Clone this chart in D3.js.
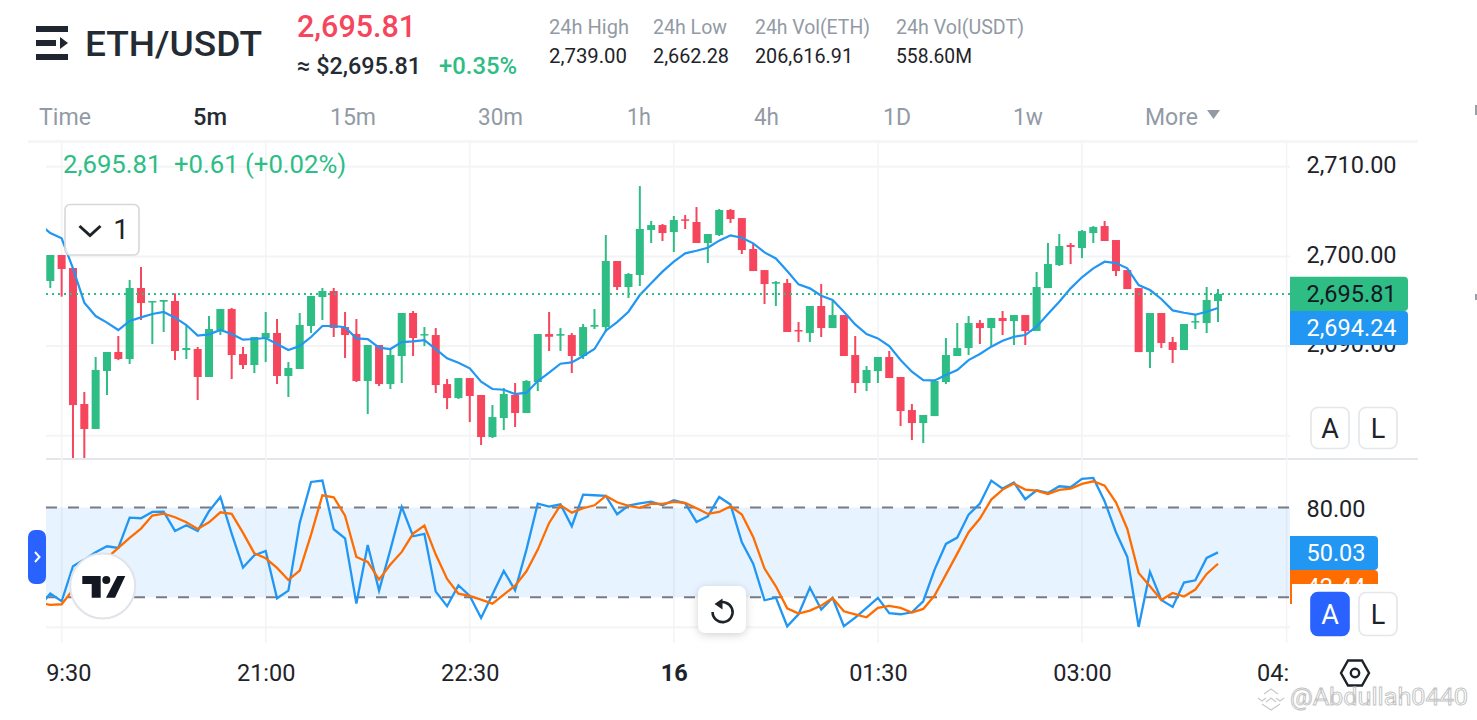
<!DOCTYPE html>
<html><head><meta charset="utf-8">
<script src="https://cdn.jsdelivr.net/npm/d3@7/dist/d3.min.js"></script>
<style>html,body{margin:0;padding:0;background:#fff;overflow:hidden}svg{display:block}text{font-family:Roboto,sans-serif}</style>
</head><body><svg id="c" width="1477" height="720"></svg>
<script>
const opens=[2697.26,2700.16,2698.71,2683.54,2680.75,2687.22,2689.34,2688.56,2696.48,2694.88,2694.95,2695.03,2689.56,2689.67,2686.55,2691.79,2694.13,2689.11,2687.89,2690.90,2691.46,2686.66,2687.44,2692.24,2695.47,2696.14,2692.12,2691.34,2686.10,2690.12,2685.76,2688.89,2693.69,2691.19,2691.23,2685.76,2684.20,2686.43,2684.54,2679.85,2681.97,2684.54,2682.53,2685.99,2691.34,2691.16,2691.23,2688.89,2692.16,2692.12,2699.49,2696.59,2697.93,2702.95,2703.50,2702.72,2704.14,2703.84,2701.50,2702.39,2705.18,2704.28,2700.83,2698.48,2696.96,2697.03,2691.79,2691.45,2694.47,2692.01,2693.46,2689.00,2685.88,2687.21,2688.78,2686.55,2682.86,2681.41,2682.19,2685.99,2688.89,2689.78,2692.57,2692.01,2693.13,2692.79,2693.46,2691.68,2696.47,2699.04,2701.27,2700.94,2702.61,2703.39,2701.83,2698.48,2696.47,2689.33,2693.69,2690.45,2689.56,2692.64,2692.57,2695.02];
const highs=[2700.16,2700.16,2698.71,2684.87,2688.78,2689.34,2691.12,2697.37,2698.82,2695.03,2695.14,2695.88,2692.24,2689.90,2693.35,2694.13,2694.25,2689.90,2691.01,2693.80,2693.02,2688.22,2693.69,2695.59,2696.48,2696.48,2693.80,2693.02,2690.12,2690.12,2689.78,2693.69,2693.91,2692.12,2692.01,2686.32,2686.43,2686.43,2684.54,2683.42,2685.32,2685.88,2686.21,2691.34,2693.80,2692.01,2691.45,2692.46,2694.13,2702.39,2699.49,2698.15,2707.85,2703.95,2703.62,2704.51,2704.62,2705.51,2702.50,2705.29,2705.29,2704.28,2701.38,2698.48,2697.26,2697.48,2692.68,2694.47,2696.92,2695.02,2693.46,2691.12,2687.77,2688.78,2689.45,2686.55,2683.53,2682.31,2686.10,2690.90,2692.57,2693.35,2692.90,2693.13,2693.91,2693.46,2693.46,2698.26,2701.50,2702.50,2701.50,2702.95,2703.39,2703.95,2701.83,2698.48,2696.47,2693.69,2693.69,2691.01,2692.46,2693.46,2696.59,2696.36];
const lows=[2696.48,2695.51,2677.47,2677.47,2680.75,2684.54,2688.44,2688.00,2692.91,2690.23,2691.57,2688.44,2688.56,2683.98,2686.55,2691.23,2686.32,2687.44,2686.99,2688.22,2685.77,2684.32,2687.44,2691.46,2692.91,2691.01,2688.67,2685.99,2682.42,2685.54,2685.21,2685.88,2688.89,2690.00,2684.76,2682.97,2684.09,2681.52,2678.96,2679.74,2680.63,2680.97,2682.53,2684.98,2689.45,2689.45,2686.99,2688.55,2691.90,2691.57,2696.25,2695.36,2696.70,2701.50,2701.72,2700.49,2703.06,2701.50,2699.26,2702.28,2703.73,2700.27,2698.37,2694.69,2694.47,2691.57,2690.45,2690.45,2691.01,2692.01,2688.89,2684.76,2684.98,2685.88,2686.43,2681.08,2679.52,2679.18,2682.19,2685.76,2688.89,2689.00,2690.23,2689.89,2691.23,2690.12,2690.12,2691.68,2696.47,2698.93,2699.15,2699.82,2701.50,2701.72,2697.81,2696.36,2689.33,2687.55,2689.78,2688.11,2689.56,2691.90,2691.45,2692.68];
const closes=[2700.16,2698.60,2683.42,2680.75,2687.33,2689.34,2688.56,2696.48,2694.80,2695.03,2695.14,2689.45,2689.78,2686.55,2691.90,2694.13,2689.00,2687.89,2691.01,2691.46,2686.66,2687.55,2692.35,2695.59,2696.14,2692.02,2691.23,2686.10,2690.12,2685.76,2689.00,2693.69,2690.90,2691.34,2685.65,2684.20,2686.43,2684.43,2679.85,2682.08,2684.65,2682.53,2686.10,2691.34,2691.04,2691.34,2688.89,2692.12,2692.35,2699.49,2696.59,2698.04,2703.06,2703.50,2702.61,2704.06,2703.99,2701.50,2702.50,2705.18,2704.17,2700.71,2698.37,2696.92,2697.14,2691.57,2691.64,2694.47,2692.01,2693.46,2688.89,2685.88,2687.33,2688.78,2686.43,2682.75,2681.41,2682.31,2686.10,2689.00,2689.78,2692.57,2692.01,2693.13,2692.79,2693.46,2691.68,2696.59,2699.15,2701.16,2701.05,2702.83,2703.28,2701.72,2698.37,2696.36,2689.33,2693.69,2690.34,2689.56,2692.46,2692.79,2695.14,2695.81];
// The first entry of the three lines below belongs to the candle just left of the visible window.
const maValues=[2703.66,2702.61,2702.02,2698.67,2694.84,2693.35,2692.61,2691.79,2692.80,2693.20,2693.58,2693.80,2693.17,2692.35,2691.16,2691.31,2691.79,2691.35,2690.71,2690.79,2690.90,2690.23,2689.56,2690.01,2691.01,2692.24,2692.24,2692.10,2690.86,2690.78,2689.82,2689.67,2690.45,2690.52,2690.67,2689.67,2688.63,2688.14,2687.51,2686.02,2685.21,2685.13,2684.65,2684.80,2686.10,2687.03,2688.03,2688.18,2688.89,2689.67,2691.71,2692.68,2693.83,2695.69,2697.00,2698.30,2699.41,2700.34,2700.64,2700.97,2701.76,2702.35,2702.09,2701.46,2700.45,2699.78,2698.37,2696.88,2696.44,2695.62,2695.14,2693.83,2692.42,2691.34,2690.86,2690.00,2688.44,2687.14,2686.21,2686.17,2686.77,2687.33,2688.44,2689.11,2689.93,2690.60,2691.04,2691.23,2692.16,2693.57,2694.95,2696.44,2697.67,2698.67,2699.41,2699.26,2698.67,2696.81,2696.25,2695.25,2693.98,2693.72,2693.50,2693.83,2694.24];
const kValues=[13.56,22.48,17.35,40.76,45.22,50.12,54.14,53.02,73.31,72.87,77.10,77.33,64.39,68.18,64.39,77.55,87.14,62.61,39.87,48.12,51.02,19.35,24.48,69.75,97.17,98.06,65.51,59.49,15.79,55.03,24.48,51.91,80.45,60.83,62.39,23.81,14.00,28.05,20.92,6.20,21.81,37.64,24.71,51.91,82.68,80.67,82.23,67.52,88.70,88.25,87.81,75.54,81.34,82.90,84.02,81.56,84.91,82.90,70.41,74.21,87.14,82.01,56.81,42.54,18.02,19.80,0.62,8.65,26.49,11.77,19.58,0.62,6.42,12.89,19.58,9.32,8.65,9.99,17.35,38.53,55.70,59.94,75.32,82.68,98.06,92.71,96.73,85.58,91.60,89.81,94.27,93.60,99.18,99.85,84.24,63.50,47.00,0.18,36.97,18.24,13.56,29.83,31.39,46.33,50.03];
const dValues=[16.23,14.90,15.34,25.15,36.30,42.99,46.33,53.02,59.71,65.96,74.65,75.99,73.54,70.19,65.73,70.19,76.88,75.77,63.06,49.46,46.11,39.64,31.62,37.86,61.94,88.25,86.91,74.65,47.00,43.66,31.84,41.87,50.35,62.61,67.96,48.56,32.29,22.48,20.92,18.46,15.79,21.81,27.83,37.42,51.91,69.75,81.56,76.66,79.56,81.56,87.81,83.57,81.12,79.78,82.68,82.45,83.79,83.12,79.56,75.77,77.10,80.89,75.32,60.38,39.20,27.38,12.67,9.10,11.11,14.45,19.58,10.66,8.65,6.65,12.89,14.23,12.89,9.77,12.22,21.14,35.19,49.23,63.50,72.64,85.35,92.04,96.06,92.04,91.37,89.14,91.82,92.71,95.83,97.62,94.72,83.57,65.73,36.30,27.38,18.24,22.92,20.47,25.15,35.63,42.44];
const priceTicks=[2710,2700,2690];
const priceGrid=[2710,2700,2690,2680];
const stochBands=[80,20];
const stochGrid=[0];
const timeTickIndex=[1,19,37,55,73,91,109];
const timeTickLabels=["9:30","21:00","22:30","16","01:30","03:00","04:"];
const intervals=["Time","5m","15m","30m","1h","4h","1D","1w","More"];
const statNames=["24h High","24h Low","24h Vol(ETH)","24h Vol(USDT)"];
const statValues=["2,739.00","2,662.28","206,616.91","558.60M"];
const lastPrice=2695.81, lastMA=2694.24, lastK=50.03, lastD=42.44;

const UP="#2ebd85",DOWN="#f6465d",BLUE="#2196f3",ORANGE="#ff6d00",INK="#1e2329",GREY="#929aa5",GRID="#f3f4f6",ROYAL="#2962ff";
const svg=d3.select("#c");
const defs=svg.append("defs");
defs.append("clipPath").attr("id","cp1").append("rect").attr("x",46).attr("y",143).attr("width",1244).attr("height",315);
defs.append("clipPath").attr("id","cp2").append("rect").attr("x",46).attr("y",460).attr("width",1244).attr("height",183);
defs.append("filter").attr("id","sh").attr("x","-40%").attr("y","-40%").attr("width","180%").attr("height","180%")
  .append("feDropShadow").attr("dx",0).attr("dy",2).attr("stdDeviation",4).attr("flood-color","#000").attr("flood-opacity",.18);

const x=d3.scaleLinear().domain([0,103]).range([50.3,1218]);
const y=d3.scaleLinear().domain([2680,2710]).range([435.7,166.8]);
const s=d3.scaleLinear().domain([0,100]).range([627.2,477.7]);

function T(str,px,py,o={}){
  const t=svg.append("text").attr("x",px).attr("y",py).attr("font-size",o.size||20).attr("font-weight",o.weight||400)
    .attr("fill",o.fill||INK).attr("text-anchor",o.anchor||"start").text(str);
  if(o.width) t.attr("textLength",o.width).attr("lengthAdjust","spacingAndGlyphs");
  return t;
}

// header
svg.append("g").attr("fill","#202630").call(g=>{
  g.append("rect").attr("x",36).attr("y",26).attr("width",32).attr("height",6);
  g.append("rect").attr("x",36).attr("y",40).attr("width",20).attr("height",6);
  g.append("path").attr("d","M60 37L68 43L60 49Z");
  g.append("rect").attr("x",36).attr("y",54).attr("width",32).attr("height",6);
});
T("ETH/USDT",85,56,{size:35,weight:500,fill:"#252b33",width:177});
T("2,695.81",297,37,{size:32,weight:500,fill:DOWN,width:119});
T("≈ $2,695.81",297,74,{size:24,weight:500,fill:"#252b33",width:124});
T("+0.35%",439,74,{size:24,weight:500,fill:UP,width:78});
[[549,80],[653,74],[755,115],[896,128]].forEach((d,i)=>T(statNames[i],d[0],34,{size:20,fill:GREY,width:d[1]}));
[[549,78],[653,76],[755,98],[896,76]].forEach((d,i)=>T(statValues[i],d[0],63,{size:20,fill:INK,width:d[1]}));
[[39,52],[193,34],[330,46],[478,45],[627,24],[754,25],[883,28],[1013,30],[1145,53]].forEach((d,i)=>
  T(intervals[i],d[0],125,{size:24,weight:i==1?500:400,fill:i==1?"#252b33":"#929aa5",width:d[1]}));
svg.append("path").attr("d","M1207 110H1220L1213.5 119Z").attr("fill","#929aa5");

// frame
svg.append("rect").attr("x",28).attr("y",140).attr("width",1390).attr("height",3).attr("fill","#f6f6f7");
svg.append("rect").attr("x",46).attr("y",458).attr("width",1372).attr("height",2).attr("fill","#e3e6ea");

// grid
svg.append("g").selectAll("line").data(timeTickIndex.slice(0,-1)).join("line")
  .attr("x1",d=>x(d)).attr("x2",d=>x(d)).attr("y1",143).attr("y2",643).attr("stroke",GRID).attr("stroke-width",1.6);
svg.append("line").attr("x1",1286.6).attr("x2",1286.6).attr("y1",143).attr("y2",643).attr("stroke",GRID).attr("stroke-width",1.6);
svg.append("g").selectAll("line").data(priceGrid).join("line")
  .attr("x1",46).attr("x2",1290).attr("y1",d=>y(d)).attr("y2",d=>y(d)).attr("stroke",GRID).attr("stroke-width",2);
svg.append("g").selectAll("line").data(stochGrid).join("line")
  .attr("x1",46).attr("x2",1290).attr("y1",d=>s(d)).attr("y2",d=>s(d)).attr("stroke",GRID).attr("stroke-width",2);

// candles
const idx=d3.range(opens.length);
const cg=svg.append("g").attr("clip-path","url(#cp1)");
cg.selectAll("rect.w").data(idx).join("rect").attr("class","w")
  .attr("x",i=>x(i)-1).attr("width",2).attr("y",i=>y(highs[i])).attr("height",i=>y(lows[i])-y(highs[i]))
  .attr("fill",i=>closes[i]>=opens[i]?UP:DOWN);
cg.selectAll("rect.b").data(idx).join("rect").attr("class","b")
  .attr("x",i=>x(i)-4).attr("width",8)
  .attr("y",i=>y(Math.max(opens[i],closes[i])))
  .attr("height",i=>Math.max(1.5,Math.abs(y(opens[i])-y(closes[i]))))
  .attr("fill",i=>closes[i]>=opens[i]?UP:DOWN);
const lineOf=(sc)=>d3.line().x((d,i)=>x(i-1)).y(d=>sc(d));
cg.append("path").attr("d",lineOf(y)(maValues)).attr("fill","none").attr("stroke",BLUE).attr("stroke-width",2.2);
cg.append("line").attr("x1",46).attr("x2",1290).attr("y1",y(lastPrice)).attr("y2",y(lastPrice))
  .attr("stroke",UP).attr("stroke-width",2).attr("stroke-dasharray","2 4");

// stochastic pane
svg.append("rect").attr("x",46).attr("width",1244).attr("y",s(stochBands[0])).attr("height",s(stochBands[1])-s(stochBands[0]))
  .attr("fill",BLUE).attr("fill-opacity",.11);
svg.append("g").selectAll("line").data(stochBands).join("line")
  .attr("x1",46).attr("x2",1290).attr("y1",d=>s(d)).attr("y2",d=>s(d))
  .attr("stroke","#787b86").attr("stroke-width",2).attr("stroke-dasharray","11 11");
const sg=svg.append("g").attr("clip-path","url(#cp2)");
sg.append("path").attr("d",lineOf(s)(kValues)).attr("fill","none").attr("stroke",BLUE).attr("stroke-width",2.3);
sg.append("path").attr("d",lineOf(s)(dValues)).attr("fill","none").attr("stroke",ORANGE).attr("stroke-width",2.3);

// price axis
const fmt=d3.format(",.2f");
const axStyle=(dy)=>g=>{g.select(".domain").remove();g.selectAll("line").remove();
  g.selectAll("text").attr("font-size",23.5).attr("font-family","Roboto").attr("fill",INK).attr("text-anchor","start").attr("dy",dy);};
svg.append("g").attr("transform","translate(1306.5,0)").call(d3.axisRight(y).tickValues(priceTicks).tickFormat(fmt).tickSize(0).tickPadding(0)).call(axStyle("0.25em"));
svg.append("g").attr("transform","translate(1306.5,0)").call(d3.axisRight(s).tickValues([80]).tickFormat(fmt).tickSize(0).tickPadding(0)).call(axStyle("0.37em"));

// time axis
svg.append("g").attr("transform","translate(0,664)")
  .call(d3.axisBottom(x).tickValues(timeTickIndex).tickFormat(d=>timeTickLabels[timeTickIndex.indexOf(d)]).tickSize(0).tickPadding(0))
  .call(g=>{g.select(".domain").remove();g.selectAll("line").remove();
    g.selectAll("text").attr("font-size",23.5).attr("font-family","Roboto").attr("fill",INK).attr("dy","0.72em")
     .attr("font-weight",d=>d===55?700:400)
     .attr("text-anchor",d=>d===1||d===109?"start":"middle")
     .attr("dx",d=>d===1?-16:d===109?-29.5:0);});

// value tags
function tag(py,w,h,fill,txt,col){
  svg.append("path").attr("d",`M1290 ${py}H${1290+w-4}q4 0 4 4V${py+h-4}q0 4 -4 4H1290Z`).attr("fill",fill);
  T(txt,1306.5,py+h/2+8,{size:23.5,fill:col});
}
tag(276.8,118,34.2,UP,fmt(lastPrice),"#131722");
tag(311,118,34,BLUE,fmt(lastMA),"#fff");
tag(570,88,34,ORANGE,fmt(lastD),"#fff");
tag(536,88,34,BLUE,fmt(lastK),"#fff");
svg.append("rect").attr("x",1292).attr("y",584).attr("width",110).attr("height",24).attr("fill","#fff");

// pane buttons
function btn(bx,by,w,h,label,active){
  svg.append("rect").attr("x",bx).attr("y",by).attr("width",w).attr("height",h).attr("rx",7)
    .attr("fill",active?ROYAL:"#fff").attr("stroke",active?ROYAL:"#e3e6ea").attr("stroke-width",1.6);
  T(label,bx+w/2,by+h/2+9.5,{size:27,fill:active?"#fff":INK,anchor:"middle"});
}
btn(1311,407.5,38,41,"A");btn(1359,407.5,38,41,"L");
btn(1311,592.5,38,43,"A",true);btn(1359,592.5,38,43,"L");

// pane collapse button
svg.append("rect").attr("x",65).attr("y",204.5).attr("width",74).attr("height",50.5).attr("rx",5)
  .attr("fill","#fff").attr("fill-opacity",.82).attr("stroke","#d5d8dc").attr("stroke-width",1.6);
svg.append("path").attr("d","M79.5 226L90 235.5L100.5 226").attr("fill","none").attr("stroke",INK).attr("stroke-width",3);
T("1",121,238.5,{size:28,anchor:"middle",fill:INK});

// legend
T("2,695.81",63,173,{size:25.7,fill:UP});
T("+0.61 (+0.02%)",174,173,{size:25.7,fill:UP});

// left tab
svg.append("rect").attr("x",28).attr("y",530).attr("width",18).attr("height",54).attr("rx",7).attr("fill",ROYAL);
svg.append("path").attr("d","M35 552L39.5 557L35 562").attr("fill","none").attr("stroke","#fff").attr("stroke-width",2);

// TradingView badge
svg.append("circle").attr("cx",102.7).attr("cy",586).attr("r",32.5).attr("fill","#fff").attr("stroke","#e0e3e7").attr("stroke-width",2);
svg.append("path").attr("fill","#131722").attr("d","M82.3 576H100.7V597.7H91.7V584H82.3ZM117.3 576H125.3L115 597.7H106Z");
svg.append("circle").attr("cx",106.3).attr("cy",580).attr("r",4).attr("fill","#131722");

// reset button
svg.append("rect").attr("x",698).attr("y",586).attr("width",48).attr("height",47).attr("rx",8).attr("fill","#fff").attr("filter","url(#sh)");
svg.append("path").attr("d","M717.5 603.5A10 10 0 1 1 712.6 612").attr("fill","none").attr("stroke",INK).attr("stroke-width",2.6);
svg.append("path").attr("d","M722.5 598.5V609.5L714.5 604Z").attr("fill",INK);

// settings hexagon
svg.append("path").attr("d","M1341 673L1348 660.5H1362L1369 673L1362 685.5H1348Z").attr("fill","none").attr("stroke",INK).attr("stroke-width",2.4);
svg.append("circle").attr("cx",1355).attr("cy",673).attr("r",4.2).attr("fill","none").attr("stroke",INK).attr("stroke-width",2.4);

// watermark
const wm=svg.append("g").attr("fill","none").attr("stroke","#c9c9c9").attr("stroke-width",1.2);
wm.append("path").attr("d","M1264 694L1271 689L1278 694M1258 698L1262 701L1266 698M1276 698L1280 701L1284 698M1266 702L1271 698L1276 702M1262 704L1271 710L1280 704");
T("@Abdullah0440",1290,705,{size:23,fill:"#fff",width:178}).attr("stroke","#c4c4c4").attr("stroke-width",.9);

// clipped-off marks at the right edge
svg.append("rect").attr("x",1475).attr("y",105).attr("width",2).attr("height",10).attr("fill","#9aa0a8");
svg.append("rect").attr("x",1475).attr("y",294).attr("width",2).attr("height",6).attr("fill","#9aa0a8");
</script></body></html>
